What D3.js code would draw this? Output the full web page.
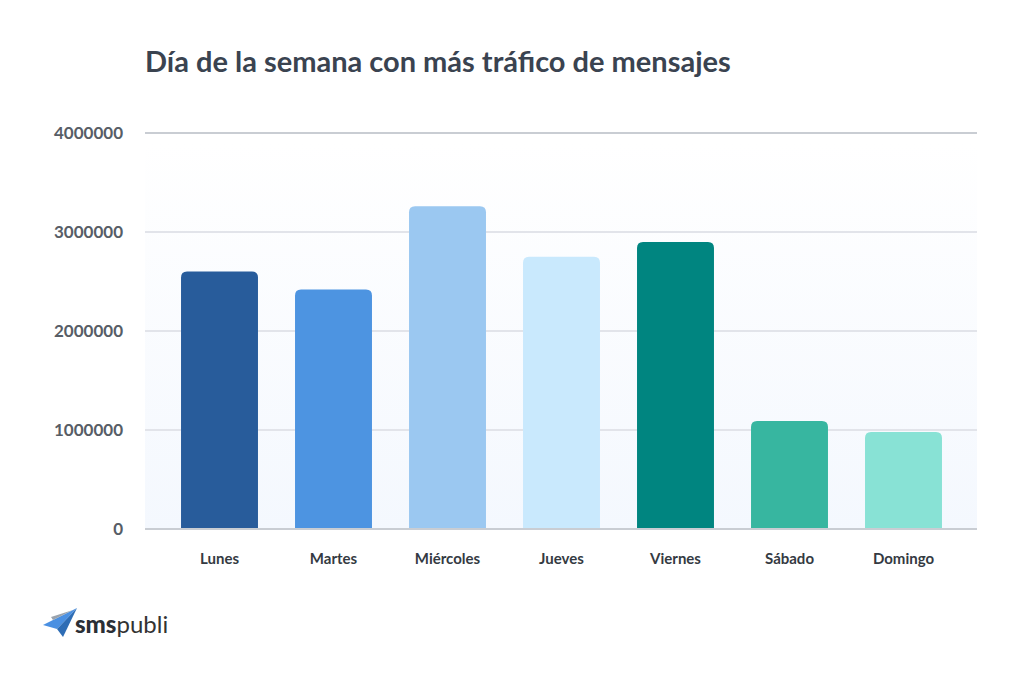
<!DOCTYPE html>
<html>
<head>
<meta charset="utf-8">
<script src="https://cdn.jsdelivr.net/npm/d3@7"></script>
<style>
  body { margin: 0; background: #fff; }
  text { font-family: Lato, "Open Sans", sans-serif; }
</style>
</head>
<body>
<script>
const days = ["Lunes", "Martes", "Miércoles", "Jueves", "Viernes", "Sábado", "Domingo"];
const traffic = [2600000, 2420000, 3260000, 2750000, 2900000, 1090000, 980000];
const barColors = ["#285c9b", "#4d94e1", "#9bc8f1", "#c9e9fd", "#008580", "#37b6a0", "#88e2d5"];
const yTicks = [0, 1000000, 2000000, 3000000, 4000000];

const WIDTH = 1020, HEIGHT = 681;
const margin = { top: 133, bottom: 152, left: 145, right: 43 };

let svg = d3.select("body").append("svg")
  .attr("width", WIDTH)
  .attr("height", HEIGHT);

let defs = svg.append("defs");
let grad = defs.append("linearGradient")
  .attr("id", "bgGrad")
  .attr("x1", 0).attr("y1", 0).attr("x2", 0).attr("y2", 1);
grad.append("stop").attr("offset", "0%").attr("stop-color", "#ffffff");
grad.append("stop").attr("offset", "100%").attr("stop-color", "#f4f8fe");

let y = d3.scaleLinear()
  .domain([0, 4000000])
  .range([HEIGHT - margin.bottom, margin.top]);

let x = d3.scaleBand()
  .domain(days)
  .range([162.5, 960.5])
  .paddingInner(0.325)
  .paddingOuter(0.1625);

// plot background
svg.append("rect")
  .attr("x", margin.left)
  .attr("y", y(4000000) + 10)
  .attr("width", WIDTH - margin.left - margin.right)
  .attr("height", y(0) - y(4000000) - 10)
  .attr("fill", "url(#bgGrad)");

// grid lines
svg.append("g").selectAll("line")
  .data(yTicks)
  .enter().append("line")
  .attr("x1", margin.left)
  .attr("x2", WIDTH - margin.right)
  .attr("y1", d => y(d))
  .attr("y2", d => y(d))
  .attr("stroke", (d, i) => (i === 0 || i === yTicks.length - 1) ? "#c9cdd3" : "#e2e4ea")
  .attr("stroke-width", 2);

// y labels
svg.append("g").selectAll("text")
  .data(yTicks)
  .enter().append("text")
  .attr("x", 123)
  .attr("y", d => y(d) + 6)
  .attr("text-anchor", "end")
  .attr("font-size", 17)
  .attr("font-weight", 700)
  .attr("fill", "#575d66")
  .text(d => d);

// bars with rounded top corners
const r = 6;
svg.append("g").selectAll("path")
  .data(days)
  .enter().append("path")
  .attr("d", (d, i) => {
    let x0 = x(d), w = x.bandwidth(), t = y(traffic[i]), b = y(0) - 1;
    return `M${x0},${b}V${t + r}Q${x0},${t} ${x0 + r},${t}H${x0 + w - r}Q${x0 + w},${t} ${x0 + w},${t + r}V${b}Z`;
  })
  .attr("fill", (d, i) => barColors[i]);

// x labels
svg.append("g").selectAll("text")
  .data(days)
  .enter().append("text")
  .attr("x", d => x(d) + x.bandwidth() / 2)
  .attr("y", 564)
  .attr("text-anchor", "middle")
  .attr("font-size", 15)
  .attr("font-weight", 700)
  .attr("fill", "#343a42")
  .text(d => d);

// title
svg.append("text")
  .attr("x", 145)
  .attr("y", 72)
  .attr("font-size", 29)
  .attr("font-weight", 700)
  .attr("fill", "#3a4350")
  .text("Día de la semana con más tráfico de mensajes");

// logo
let logo = svg.append("g").attr("transform", "translate(43,608)");
logo.append("path").attr("d", "M0,17 L34,0 L14,21 Z").attr("fill", "#4a90e2");
logo.append("path").attr("d", "M14,21 L34,0 L20,29 Z").attr("fill", "#2e6db5");
logo.append("path").attr("d", "M8,9 L30,2 L10,12 Z").attr("fill", "#9aa3ad");
logo.append("text")
  .attr("x", 32).attr("y", 25)
  .attr("font-size", 24)
  .attr("fill", "#2a2f36")
  .html('<tspan font-weight="900">sms</tspan><tspan font-weight="400" fill="#333">publi</tspan>');
</script>
</body>
</html>
